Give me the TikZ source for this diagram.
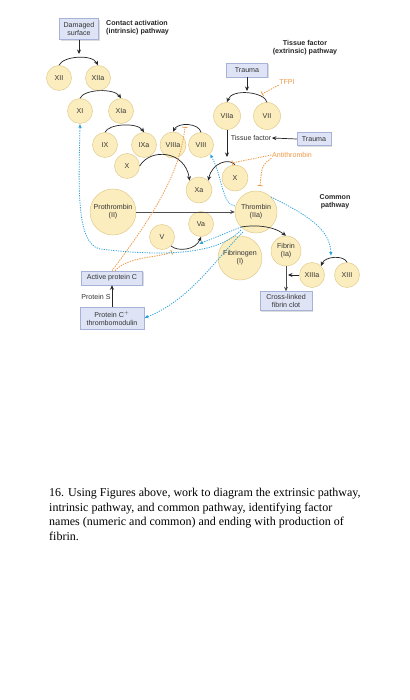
\documentclass[tikz,border=0pt]{standalone}
\usepackage{fontspec}
\setmainfont{Liberation Serif}
\newfontfamily\dsans{Liberation Sans}
\usetikzlibrary{arrows.meta,shadows}
\definecolor{cfill}{HTML}{FBEDBE}
\definecolor{cline}{HTML}{E0CB8C}
\definecolor{bfill}{HTML}{DEE4F6}
\definecolor{bline}{HTML}{A7B2D8}
\definecolor{tgray}{HTML}{333333}
\definecolor{bluedot}{HTML}{2FA4DA}
\definecolor{orng}{HTML}{EE9A45}
\tikzset{
  fac/.style={circle,fill=cfill,draw=cline,line width=0.5pt,inner sep=0pt,minimum size=#1,
    font=\dsans\fontsize{7.1}{8}\selectfont,text=tgray,align=center},
  fac/.default=25pt,
  bx/.style={rectangle,fill=bfill,draw=bline,line width=0.5pt,inner sep=1.5pt,align=center,
    font=\dsans\fontsize{7.1}{8}\selectfont,text=tgray,
    drop shadow={shadow xshift=1.2pt,shadow yshift=-1.2pt,fill=gray!45,opacity=0.6}},
  ttl/.style={font=\dsans\bfseries\fontsize{7.1}{8.2}\selectfont,text=black!85,align=left,inner sep=0pt},
  lbl/.style={font=\dsans\fontsize{7.1}{8}\selectfont,text=tgray,inner sep=0.5pt},
  olbl/.style={font=\dsans\fontsize{7.1}{8}\selectfont,text=orng,inner sep=0.5pt},
  arr/.style={draw=black!85,line width=0.7pt,-{Stealth[length=4.5pt,width=4pt]}},
  garr/.style={draw=black!70,line width=0.9pt,-{Stealth[length=4.5pt,width=4pt]}},
  bdot/.style={draw=bluedot,line width=0.8pt,dash pattern=on 1.2pt off 1.2pt,-{Latex[length=4pt,width=3.5pt]}},
  odot/.style={draw=orng,line width=0.8pt,dash pattern=on 1.4pt off 1.1pt,-{Bar[width=5pt,line width=0.8pt]}}
}
\begin{document}
\begin{tikzpicture}[x=1pt,y=-1pt]
\useasboundingbox[fill=white] (0,0) rectangle (409,700);

% titles
\node[ttl,anchor=west] (t1) at (106,28) {Contact activation\\(intrinsic) pathway};
\node[ttl,align=center] (t2) at (305,48) {Tissue factor\\(extrinsic) pathway};
\node[ttl,align=center] (t3) at (335,202) {Common\\pathway};

% boxes
\node[bx,minimum width=39pt,minimum height=21pt] (ds) at (79,29) {Damaged\\surface};
\node[bx,minimum width=41pt,minimum height=14pt] (tr1) at (247,70) {Trauma};
\node[bx,minimum width=34pt,minimum height=13pt] (tr2) at (314,139) {Trauma};
\node[bx,minimum width=61pt,minimum height=14pt] (apc) at (112,278) {Active protein C};
\node[bx,minimum width=64pt,minimum height=22pt] (pc) at (112,318) {Protein C$^{\mathbf{+}}$\\thrombomodulin};
\node[bx,minimum width=52pt,minimum height=19pt] (clot) at (286,301) {Cross-linked\\fibrin clot};

% factors
\node[fac] (XII) at (59,78) {XII};
\node[fac] (XIIa) at (98,78) {XIIa};
\node[fac] (XI) at (80,111) {XI};
\node[fac] (XIa) at (121,111) {XIa};
\node[fac] (IX) at (105,145) {IX};
\node[fac] (IXa) at (144,145) {IXa};
\node[fac=26pt] (VIIIa) at (173,145) {VIIIa};
\node[fac] (VIII) at (201,145) {VIII};
\node[fac] (X) at (127,166) {X};
\node[fac=26pt] (Xa) at (199,190) {Xa};
\node[fac=26pt] (X2) at (235,178) {X};
\node[fac=27pt] (VIIa) at (227,116) {VIIa};
\node[fac=27pt] (VII) at (267,116) {VII};
\node[fac=46pt] (pro) at (113,212) {Prothrombin\\(II)};
\node[fac=42pt] (thr) at (256,212) {Thrombin\\(IIa)};
\node[fac] (Va) at (201,224) {Va};
\node[fac] (V) at (162,237) {V};
\node[fac=44pt] (fbg) at (240,258) {Fibrinogen\\(I)};
\node[fac=30pt] (fib) at (286,251) {Fibrin\\(Ia)};
\node[fac] (XIIIa) at (312,275) {XIIIa};
\node[fac] (XIII) at (347,275) {XIII};

% labels
\node[lbl] (tf) at (251,138) {Tissue factor};
\node[olbl] (tfpi) at (287,82) {TFPI};
\node[olbl] (anti) at (292,155) {Antithrombin};
\node[lbl] (ps) at (96,297) {Protein S};

% coordinates
\coordinate (c1) at (79,54);
\coordinate (c2) at (247,91);
\coordinate (c3) at (227,157);
\coordinate (c4) at (262,94);
\coordinate (c5) at (232,163);
\coordinate (c6) at (260,186);
\coordinate (c7) at (185,127);
\coordinate (c8) at (172,252);
\coordinate (c9) at (331,256);
\coordinate (c10) at (199,244);
\coordinate (c11) at (288,275);

% black arrows
\draw[arr] (ds.south) -- (c1);
\draw[arr] (tr1.south) -- (c2);
\draw[arr] (XII.north) .. controls (63,56) and (92,54) .. (XIIa.north);
\draw[arr] (XI.north) .. controls (84,89) and (114,88) .. (XIa.north);
\draw[arr] (IX.north) .. controls (108,124) and (137,122) .. (IXa.north);
\draw[arr] (VIII.north) .. controls (199,123) and (178,122) .. (VIIIa.north);
\draw[arr] (VII.north) .. controls (265,92) and (232,88) .. (VIIa.north);
\draw[arr] (X.east) .. controls (150,148) and (185,150) .. (Xa.north west);
\draw[arr] (X2.north) .. controls (230,158) and (212,162) .. (Xa.north east);
\draw[arr] (VIIa.south) -- (c3);
\draw[arr] (tr2.west) -- (tf.east);
\draw[garr] (pro.east) -- (thr.west);
\draw[arr] (V.south east) .. controls (178,252) and (196,250) .. (Va.south);
\draw[arr] (thr.south west) .. controls (252,225) and (272,225) .. (fib.north);
\draw[arr] (XIII.north) .. controls (344,255) and (325,256) .. (XIIIa.north east);
\draw[garr] (fib.south) -- (clot.north);
\draw[arr] (XIIIa.west) -- (c11);
\draw[arr] (pc.north) -- (apc.south);

% orange inhibition
\draw[odot] (tfpi.south west) -- (c4);
\draw[odot] (anti.west) -- (c5);
\draw[odot] (anti.south west) .. controls (262,165) .. (c6);
\draw[odot] (apc.north) .. controls (150,220) and (180,175) .. (c7);
\draw[odot] ([xshift=3pt]apc.north) .. controls (128,256) and (158,258) .. (c8);

% blue activation
\draw[bdot] (thr.north east) .. controls (305,214) and (330,228) .. (c9);
\draw[bdot] ([yshift=6pt]thr.west) .. controls (222,205) and (222,175) .. (VIII.south east);
\draw[bdot] (thr.south west) -- (c10);
\draw[bdot] ([yshift=-3pt]thr.south west) .. controls (215,258) and (150,255) .. (100,249)
  .. controls (75,244) and (79,180) .. (XI.south);
\draw[bdot] ([xshift=2pt,yshift=-5pt]thr.south west) .. controls (215,260) and (190,300) .. (pc.east);

% question text
\node[anchor=north west,inner sep=0pt,align=left,font=\fontsize{12}{14.5}\selectfont] (q) at (49,488)
{16. Using Figures above, work to diagram the extrinsic pathway,\\
intrinsic pathway, and common pathway, identifying factor\\
names (numeric and common) and ending with production of\\
fibrin.};
\end{tikzpicture}
\end{document}
